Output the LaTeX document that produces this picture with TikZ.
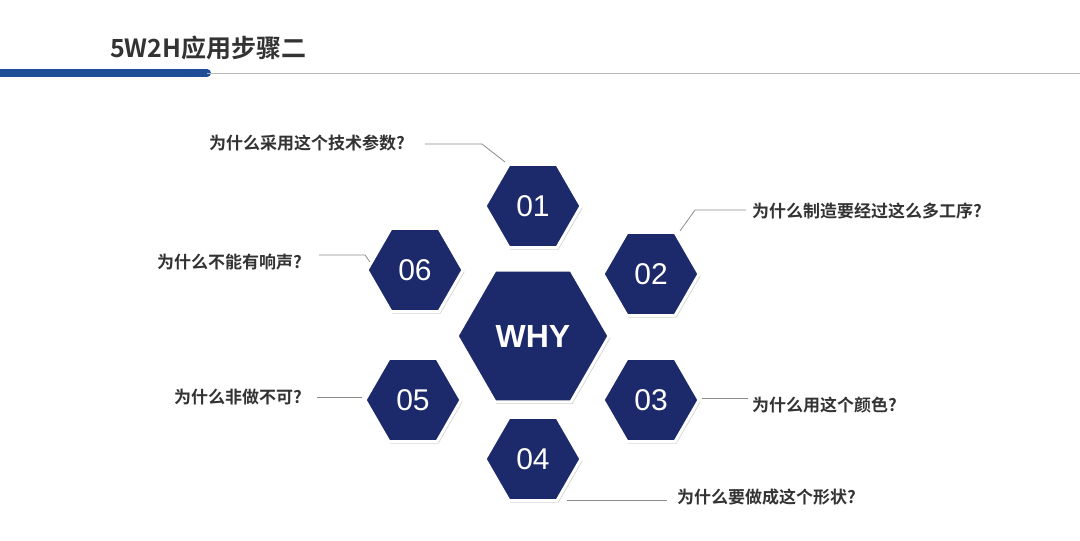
\documentclass[tikz,border=0pt]{standalone}
\usepackage{fontspec}
\setmainfont{Liberation Sans}
\newfontfamily\cjk{Noto Sans CJK SC}[BoldFont={* Bold}]
\usetikzlibrary{shapes.geometric,shadows}
\definecolor{navy}{HTML}{1C2A6B}
\definecolor{txt}{HTML}{333333}
\definecolor{barblue}{HTML}{1F4E96}
\definecolor{lead}{HTML}{8C8C8C}
\begin{document}
\begin{tikzpicture}[x=1pt,y=-1pt,
  hexs/.style={regular polygon,regular polygon sides=6,fill=navy,draw=white,line width=3pt,inner sep=0pt,text=white,
    drop shadow={opacity=0.35,shadow xshift=1.5pt,shadow yshift=-2pt}},
  small/.style={hexs,minimum size=96pt,font=\fontsize{30}{30}\selectfont},
  big/.style={hexs,minimum size=152pt,font=\fontsize{32}{32}\selectfont\bfseries},
  q/.style={text=txt,font=\cjk\bfseries\fontsize{17}{17}\selectfont,inner sep=0pt},
  ln/.style={draw=lead,line width=0.8pt}]
\useasboundingbox (0,0) rectangle (1080,541);
\fill[white] (0,0) rectangle (1080,541);
\node[anchor=west,text=txt,font=\cjk\bfseries\fontsize{25}{25}\selectfont,inner sep=0pt] (title) at (110,48) {5W2H应用步骤二};
\draw[draw=barblue,line width=8pt,line cap=round] (0,73) -- (207,73) coordinate (barend);
\coordinate (lineend) at (1080,73);
\draw[draw=lead!60,line width=0.8pt] (barend) -- (lineend);

\node[big] (why) at (533,336) {WHY};
\node[small] (h1) at (533,206) {01};
\node[small] (h2) at (651,274) {02};
\node[small] (h3) at (651,400) {03};
\node[small] (h4) at (533,459) {04};
\node[small] (h5) at (413,400) {05};
\node[small] (h6) at (415,270) {06};

\node[q,anchor=east] (t1) at (405,143) {为什么采用这个技术参数?};
\node[q,anchor=west] (t2) at (752,211) {为什么制造要经过这么多工序?};
\node[q,anchor=west] (t3) at (752,405) {为什么用这个颜色?};
\node[q,anchor=west] (t4) at (677,497) {为什么要做成这个形状?};
\node[q,anchor=east] (t5) at (302,397) {为什么非做不可?};
\node[q,anchor=east] (t6) at (302,262) {为什么不能有响声?};

\coordinate (c1) at (482,144); \coordinate (e1) at (505,162);
\draw[ln] (t1.east) ++(20,1) -- (c1) -- (e1);
\coordinate (c2) at (695,210); \coordinate (e2) at (680,231);
\draw[ln] (t2.west) ++(-6,-1) -- (c2) -- (e2);
\coordinate (e3) at (702,398);
\draw[ln] (t3.west) ++(-4,-7) -- (e3);
\coordinate (e4) at (567,500);
\draw[ln] (t4.west) ++(-10,3) -- (e4);
\coordinate (e5) at (362,397);
\draw[ln] (t5.east) ++(15,0) -- (e5);
\coordinate (c6) at (365,255); \coordinate (e6) at (370,262);
\draw[ln] (t6.east) ++(17,-7) -- (c6) -- (e6);
\end{tikzpicture}
\end{document}
